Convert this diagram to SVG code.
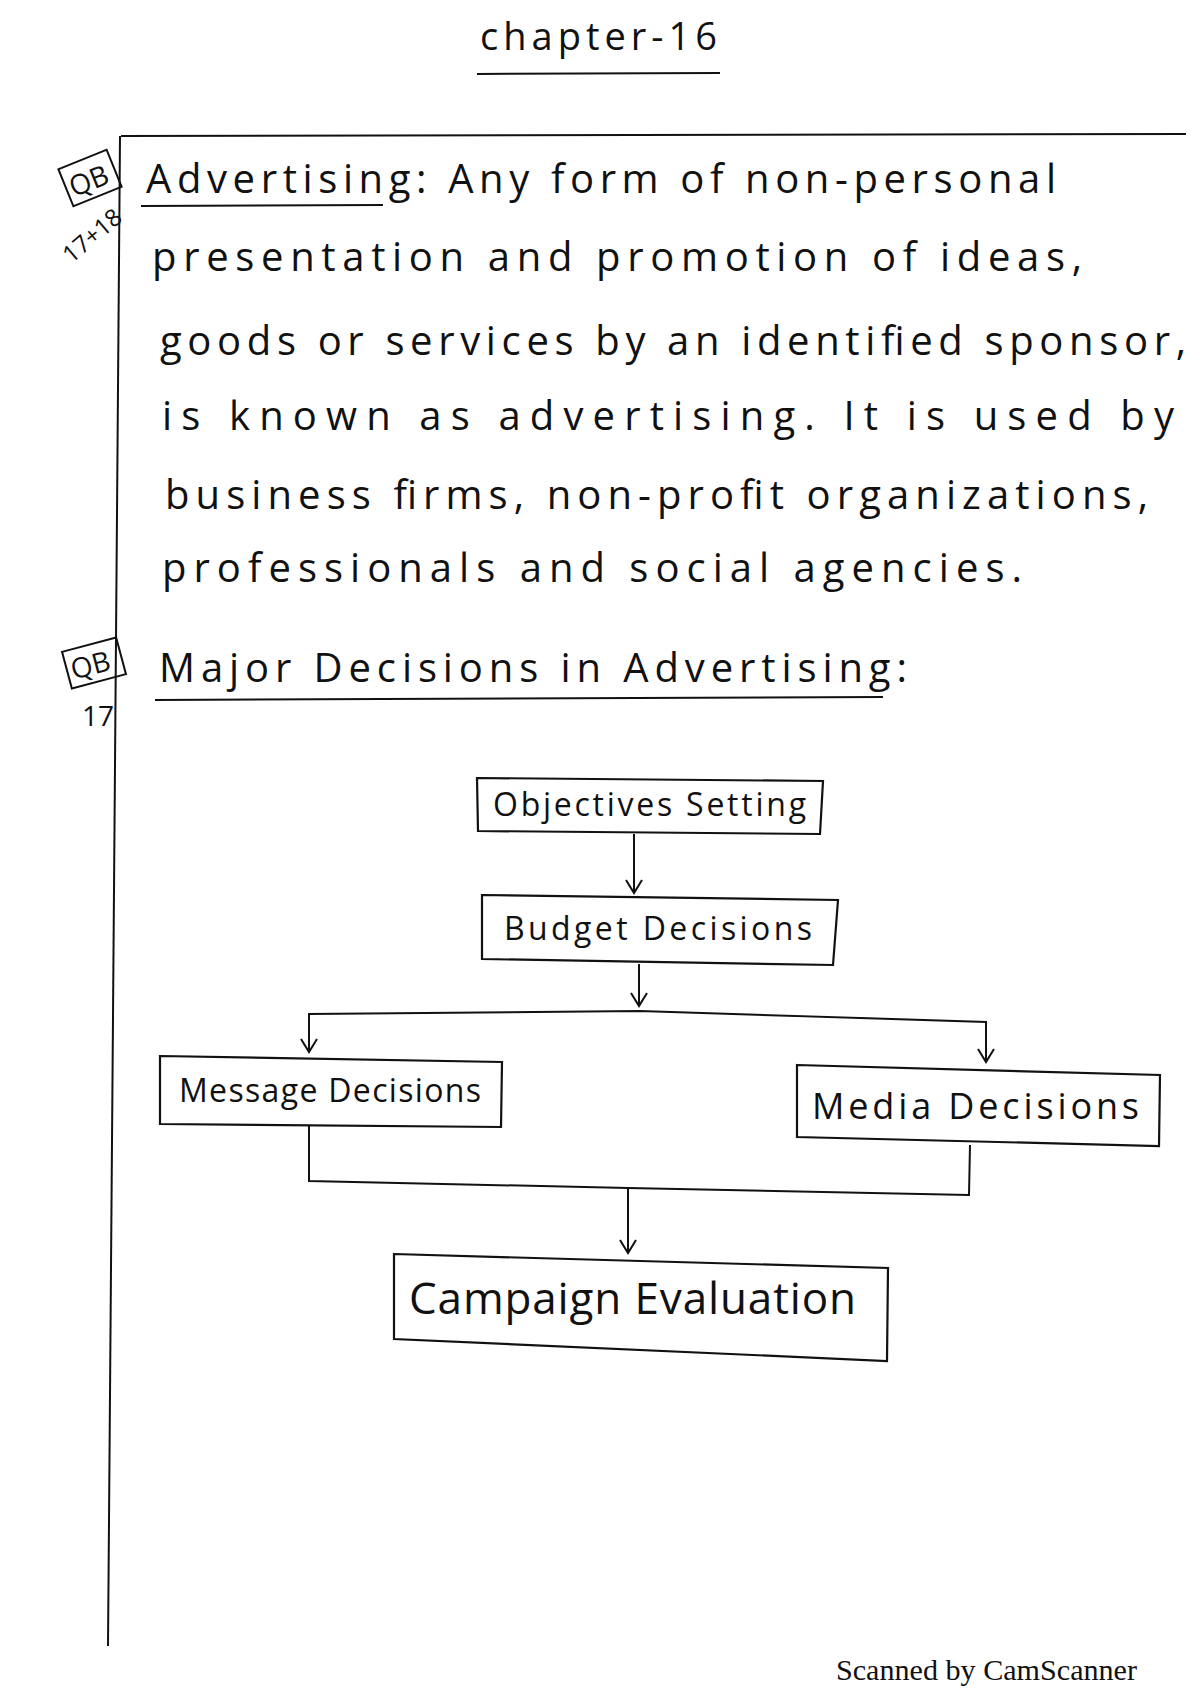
<svg xmlns="http://www.w3.org/2000/svg" width="1200" height="1698" viewBox="0 0 1200 1698">
<style>
.hw{font-family:"Open Sans","Liberation Sans",sans-serif;fill:#111;}
.body{font-size:40px;}
.box{fill:#fff;stroke:#111;stroke-width:2.2;}
.ln{fill:none;stroke:#111;stroke-width:2;}
.lbl{font-size:32px;}
</style>
<defs>
<marker id="ah" viewBox="0 0 20 20" refX="18" refY="10" markerWidth="20" markerHeight="20" markerUnits="userSpaceOnUse" orient="auto-start-reverse">
<path d="M5 2 L18 10 L5 18" fill="none" stroke="#111" stroke-width="2"/>
</marker>
</defs>
<rect width="1200" height="1698" fill="#fff"/>

<g id="page">
<text class="hw" x="480" y="50" font-size="38" textLength="237" lengthAdjust="spacing">chapter-16</text>
<path class="ln" d="M477 74 L720 73"/>
<path class="ln" d="M121 136 L1186 134"/>
<path class="ln" d="M120 136 L108 1646" stroke-width="1.5"/>

<g transform="rotate(-22 90 178)">
<rect x="64" y="158" width="52" height="40" fill="none" stroke="#111" stroke-width="2"/>
<text class="hw" x="68" y="190" font-size="28">QB</text>
</g>
<text class="hw" x="50" y="250" font-size="24" transform="rotate(-40 80 228)">17+18</text>

<text class="hw body" x="146" y="193" textLength="910" lengthAdjust="spacing">Advertising: Any form of non-personal</text>
<path class="ln" d="M141 206 L383 205"/>
<text class="hw body" x="152" y="271" textLength="930" lengthAdjust="spacing">presentation and promotion of ideas,</text>
<text class="hw body" x="160" y="355" textLength="1026" lengthAdjust="spacing">goods or services by an identified sponsor,</text>
<text class="hw body" x="162" y="430" textLength="1012" lengthAdjust="spacing">is known as advertising. It is used by</text>
<text class="hw body" x="165" y="509" textLength="983" lengthAdjust="spacing">business firms, non-profit organizations,</text>
<text class="hw body" x="162" y="582" textLength="860" lengthAdjust="spacing">professionals and social agencies.</text>

<g transform="rotate(-15 94 663)">
<rect x="66" y="644" width="56" height="38" fill="none" stroke="#111" stroke-width="2"/>
<text class="hw" x="70" y="674" font-size="28">QB</text>
</g>
<text class="hw" x="82" y="726" font-size="28">17</text>

<text class="hw body" x="159" y="682" textLength="748" lengthAdjust="spacing">Major Decisions in Advertising:</text>
<path class="ln" d="M155 700 L883 697"/>
</g>

<g id="connectors">
<path class="ln" d="M634 834 L634 893" marker-end="url(#ah)"/>
<path class="ln" d="M639 964 L639 1006" marker-end="url(#ah)"/>
<path class="ln" d="M309 1052 L309 1014 L640 1011 L986 1022 L986 1062" marker-start="url(#ah)" marker-end="url(#ah)"/>
<path class="ln" d="M309 1126 L309 1181 L628 1188 L969 1195 L970 1145"/>
<path class="ln" d="M628 1188 L628 1253" marker-end="url(#ah)"/>
</g>

<g id="n-objectives">
<path class="box" d="M477 778 L823 781 L820 834 L478 831 Z"/>
<text class="hw lbl" x="493" y="816" textLength="313" lengthAdjust="spacing">Objectives Setting</text>
</g>
<g id="n-budget">
<path class="box" d="M482 895 L838 900 L833 965 L482 959 Z"/>
<text class="hw lbl" x="504" y="940" textLength="308" lengthAdjust="spacing">Budget Decisions</text>
</g>
<g id="n-message">
<path class="box" d="M160 1056 L502 1062 L501 1127 L160 1124 Z"/>
<text class="hw lbl" x="179" y="1102" textLength="302" lengthAdjust="spacing">Message Decisions</text>
</g>
<g id="n-media">
<path class="box" d="M797 1065 L1160 1075 L1159 1146 L797 1137 Z"/>
<text class="hw" x="812" y="1119" font-size="36" textLength="327" lengthAdjust="spacing">Media Decisions</text>
</g>
<g id="n-campaign">
<path class="box" d="M394 1254 L888 1268 L887 1361 L394 1339 Z"/>
<text class="hw" x="409" y="1314" font-size="44" textLength="447" lengthAdjust="spacing">Campaign Evaluation</text>
</g>

<text x="836" y="1680" font-family="'Liberation Serif',serif" font-size="30" fill="#111" textLength="301" lengthAdjust="spacingAndGlyphs">Scanned by CamScanner</text>
</svg>
